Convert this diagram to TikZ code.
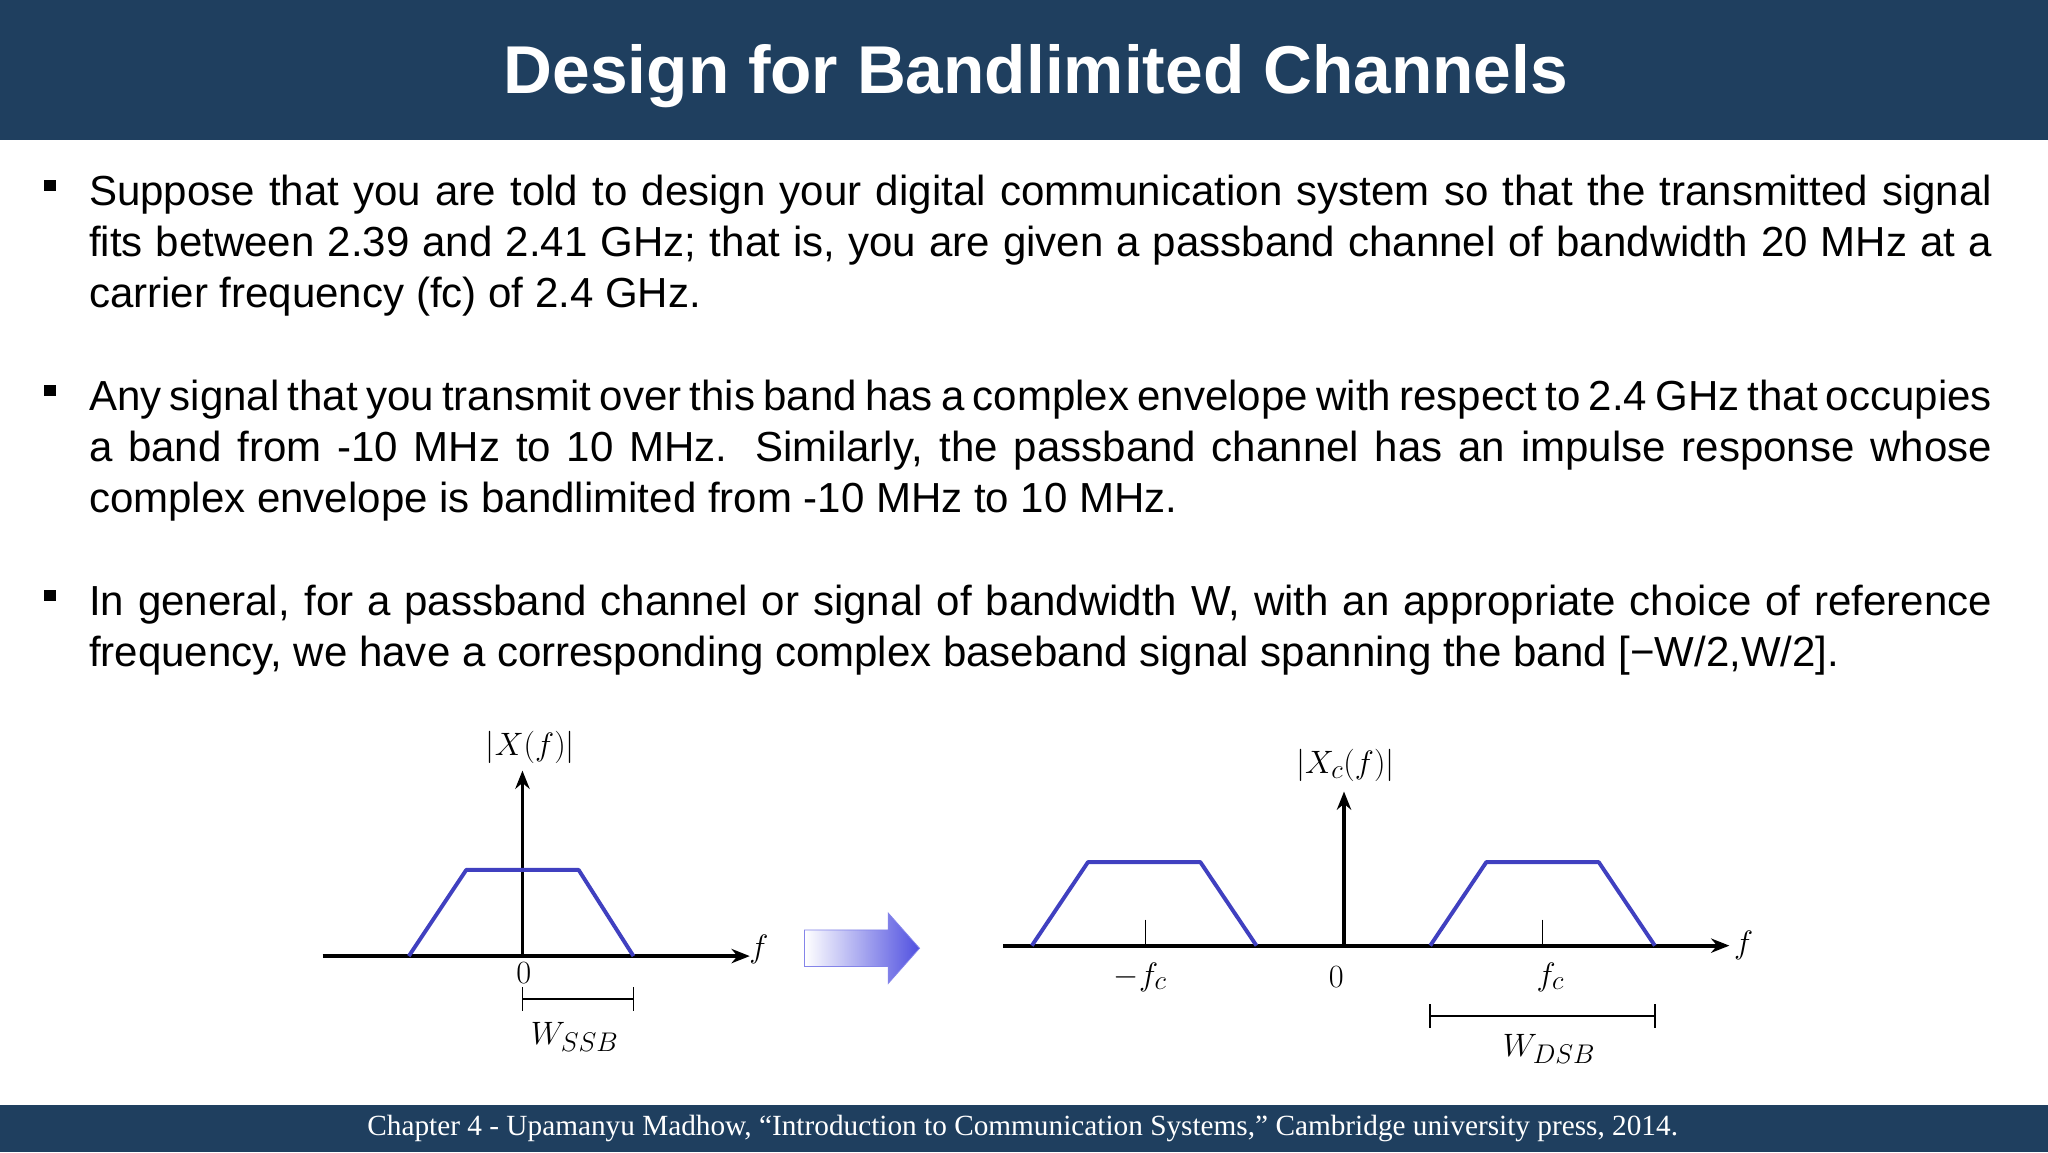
\documentclass[tikz,border=0pt]{standalone}
\usepackage{fontspec}
\setmainfont{Liberation Sans}
\newfontfamily\serifft{Liberation Serif}
\usetikzlibrary{arrows.meta,calc}
\definecolor{hdr}{HTML}{1F3F5F}
\definecolor{trap}{HTML}{4040C0}
\definecolor{arrblue}{HTML}{5050E0}
\tikzset{
  axis/.style={line width=3pt,-{Stealth[length=14pt,width=11pt]}},
  trapl/.style={line width=3pt,trap,line join=round},
  brk/.style={line width=1.2pt},
  lbl/.style={font=\fontsize{29}{32}\selectfont},
  para/.style={anchor=north west,text width=1457bp,align=justify,inner sep=0pt,font=\fontsize{32.3}{39.2}\selectfont},
  bullet/.style={fill=black,minimum size=9bp,inner sep=0pt}
}
\begin{document}
\begin{tikzpicture}[x=1bp,y=-1bp]
\useasboundingbox (0,0) rectangle (1568,882);
\fill[white] (0,0) rectangle (1568,882);
\fill[hdr] (0,0) rectangle (1568,107);
\node[white,font=\bfseries\fontsize{52}{56}\selectfont] (title) at (793,58) {Design for Bandlimited Channels};
\fill[hdr] (0,846) rectangle (1568,882);
\node[white,font=\serifft\fontsize{22.5}{24}\selectfont] (foot) at (783,864) {Chapter 4 - Upamanyu Madhow, “Introduction to Communication Systems,” Cambridge university press, 2014.};
% bullets
\node[bullet] (b1) at (38,142) {};
\node[bullet] (b2) at (38,299) {};
\node[bullet] (b3) at (38,456) {};
\node[para] (p1) at (68,134) {Suppose that you are told to design your digital communication system so that the transmitted signal fits between 2.39 and 2.41 GHz; that is, you are given a passband channel of bandwidth 20 MHz at a carrier frequency (fc) of 2.4 GHz.};
\node[para] (p2) at (68,291) {Any signal that you transmit over this band has a complex envelope with respect to 2.4 GHz that occupies a band from -10 MHz to 10 MHz. Similarly, the passband channel has an impulse response whose complex envelope is bandlimited from -10 MHz to 10 MHz.};
\node[para] (p3) at (68,448) {In general, for a passband channel or signal of bandwidth W, with an appropriate choice of reference frequency, we have a corresponding complex baseband signal spanning the band [−W/2,W/2].};
% left spectrum
\coordinate (lx0) at (247,732); \coordinate (lx1) at (574,732);
\coordinate (ly0) at (400,732); \coordinate (ly1) at (400,590);
\draw[axis] (lx0) -- (lx1);
\draw[axis] (ly0) -- (ly1);
\draw[trapl] (313,732) -- (357,666) -- (443,666) -- (485,732);
\node[lbl] (l0) at (401,745) {$0$};
\node[lbl] (lf) at (581,727) {$f$};
\node[lbl] (lX) at (406,572) {$|X(f)|$};
\coordinate (ws0) at (400,765); \coordinate (ws1) at (485,765);
\draw[brk] (ws0) -- (ws1);
\draw[brk] ($(ws0)+(0,-9)$) -- ($(ws0)+(0,9)$);
\draw[brk] ($(ws1)+(0,-9)$) -- ($(ws1)+(0,9)$);
\node[lbl] (wssb) at (440,794) {$W_{SSB}$};
% block arrow
\shade[left color=white,right color=arrblue,draw=arrblue!70,line width=0.6pt]
  (616,712) -- (680,712) -- (680,699) -- (704,726) -- (680,753) -- (680,740) -- (616,740) -- cycle;
% right spectrum
\coordinate (rx0) at (768,724); \coordinate (rx1) at (1324,724);
\coordinate (ry0) at (1029,724); \coordinate (ry1) at (1029,606);
\draw[axis] (rx0) -- (rx1);
\draw[axis] (ry0) -- (ry1);
\draw[trapl] (790,724) -- (833,660) -- (919,660) -- (962,724);
\draw[trapl] (1095,724) -- (1138,660) -- (1224,660) -- (1267,724);
\draw[line width=1.2pt] (877,704) -- (877,724);
\draw[line width=1.2pt] (1181,704) -- (1181,724);
\node[lbl] (rmf) at (873,748) {$-f_c$};
\node[lbl] (r0) at (1023,748) {$0$};
\node[lbl] (rf) at (1187,748) {$f_c$};
\node[lbl] (rff) at (1335,724) {$f$};
\node[lbl] (rX) at (1030,586) {$|X_c(f)|$};
\coordinate (wd0) at (1095,778); \coordinate (wd1) at (1267,778);
\draw[brk] (wd0) -- (wd1);
\draw[brk] (1095,769) -- (1095,787);
\draw[brk] (1267,769) -- (1267,787);
\node[lbl] (wdsb) at (1186,803) {$W_{DSB}$};
\end{tikzpicture}
\end{document}
